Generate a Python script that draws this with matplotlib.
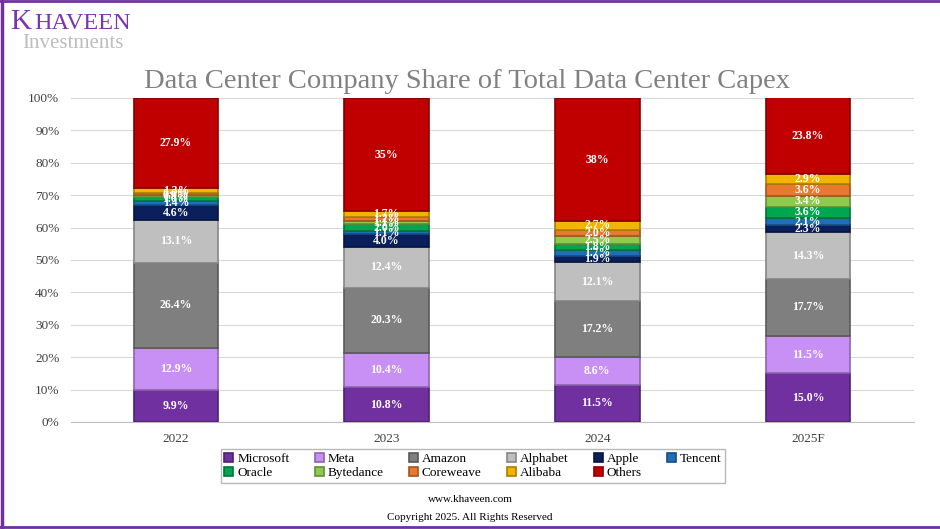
import matplotlib
matplotlib.use('Agg')
import matplotlib.pyplot as plt
from matplotlib.lines import Line2D
import matplotlib.colors as mcolors
import numpy as np

years = ['2022', '2023', '2024', '2025F']
companies = ['Microsoft', 'Meta', 'Amazon', 'Alphabet', 'Apple', 'Tencent',
             'Oracle', 'Bytedance', 'Coreweave', 'Alibaba', 'Others']

# share of total data center capex (%), per year
microsoft = [9.9, 10.8, 11.5, 15.0]
meta = [12.9, 10.4, 8.6, 11.5]
amazon = [26.4, 20.3, 17.2, 17.7]
alphabet = [13.1, 12.4, 12.1, 14.3]
apple = [4.6, 4.0, 1.9, 2.3]
tencent = [1.4, 1.1, 1.7, 2.1]
oracle = [1.0, 2.0, 1.8, 3.6]
bytedance = [0.9, 1.1, 2.5, 3.4]
coreweave = [0.6, 1.2, 2.0, 3.6]
alibaba = [1.3, 1.7, 2.7, 2.9]
others = [27.9, 35.0, 38.0, 23.8]
others_labels = ['27.9%', '35%', '38%', '23.8%']

series = [microsoft, meta, amazon, alphabet, apple, tencent,
          oracle, bytedance, coreweave, alibaba, others]
colors = ['#7030A0', '#C890F4', '#7F7F7F', '#BFBFBF', '#0A1F5C', '#1F6FB8',
          '#00A550', '#8CCB4E', '#E8792E', '#F2B400', '#C00000']

W, H = 940, 529
fig = plt.figure(figsize=(W / 100, H / 100), dpi=100)
fig.patch.set_facecolor('white')

# purple frame (left, top, bottom)
frame = '#7030A0'
fig.add_artist(Line2D([1.5 / W, 1.5 / W], [0, 1], color=frame, lw=2.5, transform=fig.transFigure))
fig.add_artist(Line2D([0, 1], [1 - 1 / H, 1 - 1 / H], color=frame, lw=2, transform=fig.transFigure))
fig.add_artist(Line2D([0, 1], [2 / H, 2 / H], color=frame, lw=2, transform=fig.transFigure))

serif = 'Liberation Serif'

# logo
fig.text(10 / W, 1 - 29 / H, 'K', fontsize=21, color='#7B35B0', family=serif, va='baseline')
fig.text(34 / W, 1 - 29 / H, 'HAVEEN', fontsize=17.5, color='#7B35B0', family=serif, va='baseline')
fig.text(22 / W, 1 - 48 / H, 'Investments', fontsize=15, color='#BDBDBD', family=serif, va='baseline')

fig.text(467 / W, 1 - 81 / H, 'Data Center Company Share of Total Data Center Capex',
         fontsize=20.5, color='#808080', family=serif, ha='center', va='center')

ax = fig.add_axes([70.5 / W, (H - 422) / H, 843 / W, 324 / H])
x = np.arange(len(years))
width = 0.4
bottom = np.zeros(len(years))
for name, vals, c in zip(companies, series, colors):
    vals = np.array(vals)
    edge = np.array(mcolors.to_rgb(c)) * 0.7
    ax.bar(x, vals, width, bottom=bottom, color=c, edgecolor=edge, linewidth=1.2, label=name, zorder=3)
    for i, v in enumerate(vals):
        lab = others_labels[i] if name == 'Others' else f'{v:.1f}%'
        ax.text(x[i], bottom[i] + v / 2, lab, ha='center', va='center', color='white',
                fontsize=8.5, fontweight='bold', family=serif, zorder=4)
    bottom += vals

ax.set_xlim(-0.5, 3.5)
ax.set_ylim(0, 100)
ax.set_yticks(np.arange(0, 101, 10))
ax.set_yticklabels([f'{t}%' for t in range(0, 101, 10)])
ax.set_xticks(x)
ax.set_xticklabels(years)
for lab in ax.get_xticklabels() + ax.get_yticklabels():
    lab.set_family(serif)
    lab.set_fontsize(9.5)
    lab.set_color('#404040')
ax.tick_params(length=0, pad=8)
ax.grid(axis='y', color='#D9D9D9', lw=0.8, zorder=0)
for s in ['top', 'right', 'left']:
    ax.spines[s].set_visible(False)
ax.spines['bottom'].set_color('#BFBFBF')

# legend fills row by row in the reference
handles, labels = ax.get_legend_handles_labels()
order = [0, 6, 1, 7, 2, 8, 3, 9, 4, 10, 5]
leg = fig.legend([handles[i] for i in order], [labels[i] for i in order], ncol=6, loc='center',
                 bbox_to_anchor=(473 / W, 1 - 466 / H),
                 prop={'family': serif, 'size': 9.5}, frameon=True, fancybox=False,
                 handlelength=0.7, handleheight=0.7, handletextpad=0.3, columnspacing=1.9,
                 labelspacing=0.15, borderpad=0.25)
leg.get_frame().set_edgecolor('#A6A6A6')
leg.get_frame().set_linewidth(1)

fig.text(470 / W, 1 - 500 / H, 'www.khaveen.com', fontsize=8, family=serif, ha='center', va='center')
fig.text(470 / W, 1 - 517 / H, 'Copyright 2025. All Rights Reserved', fontsize=8, family=serif,
         ha='center', va='center')

fig.savefig('out.png', dpi=100)
